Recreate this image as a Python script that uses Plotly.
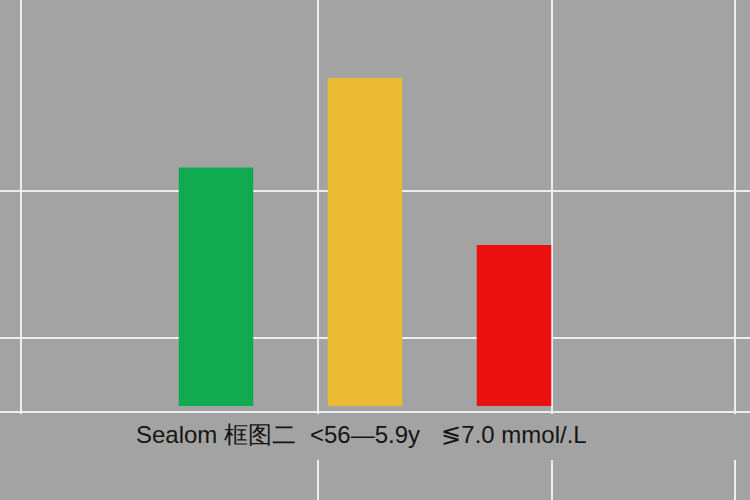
import plotly.graph_objects as go

# Data
categories = ["Sealom 框图二", "<56—5.9y", "≶7.0 mmol/.L"]
values = [40, 55, 27]
bar_colors = ["#10ab50", "#ebbb34", "#ea1010"]

BG = "#a3a3a3"
GRID = "#eeeeee"
FONT = "Liberation Sans Narrow, Liberation Sans, Arial, sans-serif"

x_pos = [0, 1, 2]
x_range = [-1.4497, 3.584]
y_range = [-1.341, 68.07]

fig = go.Figure()
fig.add_trace(go.Bar(
    x=x_pos, y=values, width=0.5,
    marker=dict(color=bar_colors, line=dict(width=0)),
    hoverinfo="skip", showlegend=False,
))
fig.add_trace(go.Scatter(x=[None], y=[None], xaxis="x2", yaxis="y2",
                         showlegend=False, hoverinfo="skip"))

fig.update_layout(
    width=750, height=500,
    margin=dict(l=0, r=0, t=0, b=0),
    paper_bgcolor=BG, plot_bgcolor=BG,
    font=dict(family=FONT, size=24, color="#151515"),
    xaxis=dict(
        domain=[0, 1], range=x_range, anchor="y",
        tickmode="array", tickvals=x_pos, ticktext=categories,
        showgrid=False, zeroline=False, showline=False, ticks="",
        ticklabelstandoff=4,
        minor=dict(tickmode="array", tickvals=[-1.309, 0.685, 2.255, 3.483],
                   showgrid=True, gridcolor=GRID, gridwidth=2, ticks=""),
    ),
    yaxis=dict(
        domain=[0.172, 1], range=y_range, anchor="x",
        tickmode="array", tickvals=[-1.006, 11.40, 36.05],
        showgrid=True, gridcolor=GRID, gridwidth=2,
        showticklabels=False, zeroline=False, showline=False, ticks="",
    ),
    xaxis2=dict(
        domain=[0, 1], range=x_range, anchor="y2",
        showticklabels=False, showgrid=False, zeroline=False, ticks="",
        minor=dict(tickmode="array", tickvals=[0.685, 2.255, 3.483],
                   showgrid=True, gridcolor=GRID, gridwidth=2, ticks=""),
    ),
    yaxis2=dict(
        domain=[0, 0.08], range=[0, 1], anchor="x2",
        showticklabels=False, showgrid=False, zeroline=False, ticks="",
    ),
)

fig.write_html(
    "out.html",
    config={"displayModeBar": False},
    post_script="document.body.style.margin='0';document.body.style.overflow='hidden';",
)
